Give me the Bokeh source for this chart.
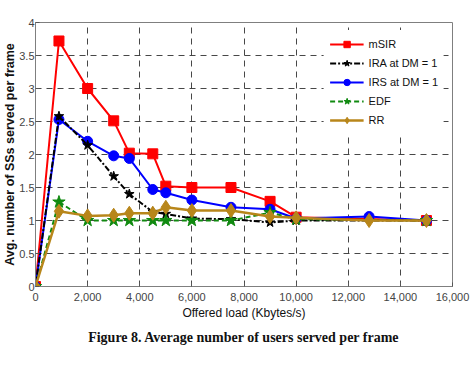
from bokeh.plotting import figure
from bokeh.models import (Range1d, FixedTicker, NumeralTickFormatter, Title, Legend, LegendItem)
from bokeh.embed import file_html
from bokeh.resources import INLINE

# ---- data ----
load_msir = [0, 900, 2000, 3000, 3600, 4500, 5000, 6000, 7500, 9000, 10000, 15000]
msir = [0.0, 3.72, 3.0, 2.51, 2.02, 2.01, 1.52, 1.5, 1.5, 1.29, 1.05, 1.0]

load_ira = [0, 900, 2000, 3000, 3600, 4500, 5000, 6000, 7500, 9000, 10000, 15000]
ira = [0.0, 2.58, 2.14, 1.67, 1.4, 1.13, 1.1, 1.03, 1.02, 0.97, 1.0, 1.0]

load_irs = [0, 900, 2000, 3000, 3600, 4500, 5000, 6000, 7500, 9000, 10000, 12800, 15000]
irs = [0.0, 2.53, 2.2, 1.98, 1.94, 1.47, 1.42, 1.31, 1.2, 1.17, 1.03, 1.06, 1.0]

load_edf = [0, 900, 2000, 3000, 3600, 4500, 5000, 6000, 7500, 9000, 10000, 15000]
edf = [0.0, 1.28, 1.0, 1.0, 1.0, 1.0, 1.0, 1.0, 1.0, 1.12, 1.02, 1.0]

load_rr = [0, 900, 2000, 3000, 3600, 4500, 5000, 6000, 7500, 9000, 10000, 12800, 15000]
rr = [0.0, 1.14, 1.07, 1.08, 1.11, 1.11, 1.2, 1.15, 1.15, 1.06, 1.04, 1.0, 1.0]

x_ticks = [0, 2000, 4000, 6000, 8000, 10000, 12000, 14000, 16000]
y_ticks = [0, 0.5, 1, 1.5, 2, 2.5, 3, 3.5, 4]
y_tick_labels = ["0", "0.5", "1", "1.5", "2", "2.5", "3", "3.5", "4"]

series_names = ["mSIR", "IRA at DM = 1", "IRS at DM = 1", "EDF", "RR"]
x_label = "Offered load (Kbytes/s)"
y_label = "Avg. number of SSs served per frame"
caption = "Figure 8. Average number of users served per frame"

FONT = "Liberation Sans"

p = figure(width=474, height=368, output_backend="svg", toolbar_location=None,
           x_range=Range1d(0, 16000), y_range=Range1d(0, 4),
           min_border_left=35, min_border_right=22, min_border_top=22, min_border_bottom=82)
p.background_fill_color = "white"
p.border_fill_color = "white"
p.outline_line_color = "#7f7f7f"
p.outline_line_width = 1

for ax in (p.xaxis[0], p.yaxis[0]):
    ax.axis_line_color = "#7f7f7f"
    ax.major_tick_in = 4
    ax.major_tick_out = 0
    ax.minor_tick_line_color = None
    ax.major_tick_line_color = "#555555"
    ax.major_label_text_font = FONT
    ax.major_label_text_font_size = "11px"
    ax.major_label_text_color = "#444444"
p.xaxis.major_label_standoff = 6
p.yaxis.major_label_standoff = 1

p.xaxis.ticker = FixedTicker(ticks=x_ticks)
p.xaxis.formatter = NumeralTickFormatter(format="0,0")
p.yaxis.ticker = FixedTicker(ticks=y_ticks)
p.yaxis.major_label_overrides = {t: s for t, s in zip(y_ticks, y_tick_labels)}

p.xgrid.ticker = FixedTicker(ticks=x_ticks)
p.ygrid.ticker = FixedTicker(ticks=y_ticks)
for g in (p.xgrid[0], p.ygrid[0]):
    g.grid_line_color = "#333333"
    g.grid_line_dash = "6 5"
    g.grid_line_width = 1
    g.grid_line_alpha = 0.9

red = "#ff0000"
black = "#000000"
blue = "#0000ff"
green = "#108a10"
gold = "#b8861a"

items = []
l1 = p.line(load_msir, msir, color=red, line_width=2)
m1 = p.scatter(load_msir, msir, marker="square", size=10, color=red)
items.append(LegendItem(label=series_names[0], renderers=[l1, m1]))

l3 = p.line(load_irs, irs, color=blue, line_width=2)
m3 = p.scatter(load_irs, irs, marker="circle", size=10, color=blue)

l2 = p.line(load_ira, ira, color=black, line_width=2, line_dash="6 2 2 2")
m2 = p.scatter(load_ira, ira, marker="star", size=10, color=black)
items.append(LegendItem(label=series_names[1], renderers=[l2, m2]))
items.append(LegendItem(label=series_names[2], renderers=[l3, m3]))

l4 = p.line(load_edf, edf, color=green, line_width=2, line_dash="5 3")
m4 = p.scatter(load_edf, edf, marker="star", size=13, color=green)
items.append(LegendItem(label=series_names[3], renderers=[l4, m4]))

l5 = p.line(load_rr, rr, color=gold, line_width=2.5)
m5 = p.scatter(load_rr, rr, marker="diamond", size=14, color=gold)
items.append(LegendItem(label=series_names[4], renderers=[l5, m5]))

legend = Legend(items=items, location="top_right",
                label_text_font=FONT, label_text_font_size="11px", label_text_color="#111111",
                glyph_width=34, glyph_height=16, label_height=16, spacing=3,
                padding=6, margin=8, label_standoff=5,
                border_line_alpha=0, background_fill_color="white", background_fill_alpha=1)
p.add_layout(legend)

# axis titles and caption as Titles stacked outside the frame
p.add_layout(Title(text=y_label, align="center", standoff=0, offset=0,
                   text_font=FONT, text_font_size="12.5px", text_font_style="bold",
                   text_color="#111111"), "left")
p.add_layout(Title(text=x_label, align="center", standoff=1,
                   text_font=FONT, text_font_size="12px", text_font_style="normal",
                   text_color="#111111"), "below")
p.add_layout(Title(text=caption, align="center", standoff=14,
                   text_font="Liberation Serif", text_font_size="14px", text_font_style="bold",
                   text_color="#111111"), "below")

open("out.html", "w").write(file_html(p, INLINE))
